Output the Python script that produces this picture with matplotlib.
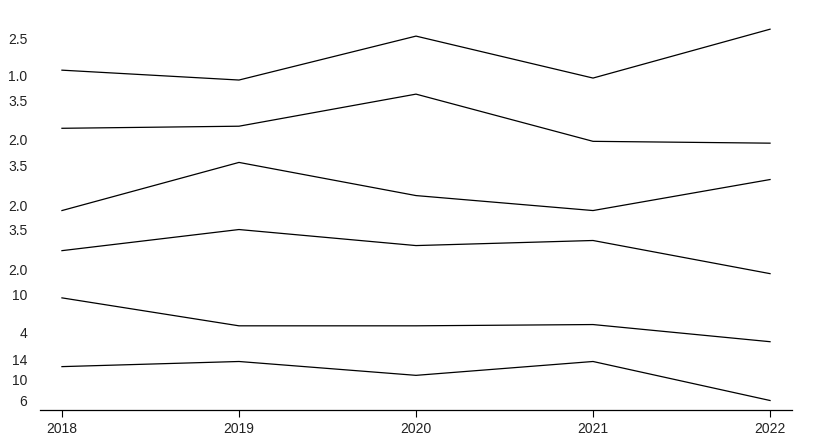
import matplotlib
matplotlib.use('Agg')
import matplotlib.pyplot as plt

plt.rcParams['font.family'] = ['Liberation Sans', 'DejaVu Sans']

years = [2018, 2019, 2020, 2021, 2022]
s1 = [1.2, 0.8, 2.58, 0.88, 2.86]
s2 = [2.42, 2.5, 3.73, 1.92, 1.85]
s3 = [1.81, 3.61, 2.37, 1.81, 2.97]
s4 = [2.71, 3.5, 2.9, 3.09, 1.85]
s5 = [9.5, 5.1, 5.1, 5.3, 2.6]
s6 = [12.6, 13.6, 10.9, 13.6, 6.0]
series = [s1, s2, s3, s4, s5, s6]
yticks = [[1.0, 2.5], [2.0, 3.5], [2.0, 3.5], [2.0, 3.5], [4, 10], [6, 10, 14]]
ylims = [(0.43, 3.03), (1.46, 3.92), (1.55, 3.95), (1.55, 3.95), (1.95, 12.05), (4.15, 16.65)]

fig = plt.figure(figsize=(8.16, 4.45), dpi=100)
top, bottom = 1 - 25 / 445, 1 - 410 / 445
h = (top - bottom) / 6
for i, (s, t, yl) in enumerate(zip(series, yticks, ylims)):
    ax = fig.add_axes([40 / 816, top - (i + 1) * h, 752 / 816, h])
    ax.plot(years, s, color='black', lw=0.9)
    ax.set_xlim(2018 - 0.124, 2022 + 0.124)
    ax.set_ylim(*yl)
    ax.set_yticks(t)
    if i < 4:
        ax.set_yticklabels(['%.1f' % v for v in t])
    else:
        ax.set_yticklabels(['%d' % v for v in t])
    ax.tick_params(axis='y', length=0, pad=9, labelsize=10, labelcolor='#222222')
    ax.patch.set_alpha(0)
    for sp in ['top', 'right', 'left']:
        ax.spines[sp].set_visible(False)
    if i < 5:
        ax.spines['bottom'].set_visible(False)
        ax.set_xticks([])
    else:
        ax.spines['bottom'].set_linewidth(0.9)
        ax.set_xticks(years)
        ax.tick_params(axis='x', length=5, labelsize=10, labelcolor='#222222')

fig.savefig('out.png', dpi=100)
